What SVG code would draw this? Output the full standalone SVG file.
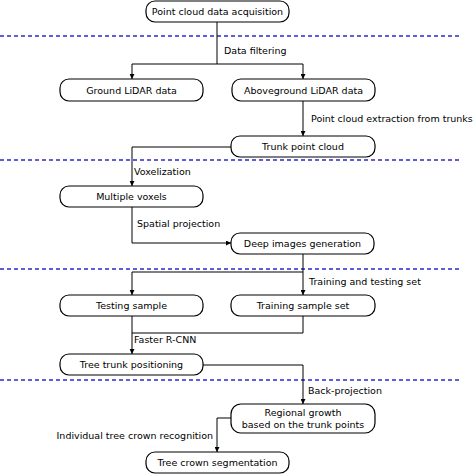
<svg xmlns="http://www.w3.org/2000/svg" width="474" height="474" viewBox="0 0 474 474">
<defs>
<style>
.box{fill:#fff;stroke:#000;stroke-width:1.2}
.t{font-family:"DejaVu Sans",Verdana,sans-serif;font-size:9.5px;fill:#000}
.c{text-anchor:middle}
.e{text-anchor:end}
.ln{fill:none;stroke:#000;stroke-width:1}
.dash{stroke:#2a2ad0;stroke-width:1.4;stroke-dasharray:4 3}
</style>
<marker id="ah" viewBox="0 0 10 10" refX="10" refY="5" markerWidth="5" markerHeight="5" orient="auto" markerUnits="userSpaceOnUse">
<path d="M0,0 L10,5 L0,10 z" fill="#000"/>
</marker>
</defs>
<rect width="474" height="474" fill="#fff"/>
<g id="separators">
<line class="dash" x1="0" y1="36" x2="462" y2="36"/>
<line class="dash" x1="0" y1="160" x2="462" y2="160"/>
<line class="dash" x1="0" y1="269" x2="462" y2="269"/>
<line class="dash" x1="0" y1="380" x2="462" y2="380"/>
</g>
<g id="connectors">
<path class="ln" d="M217,22 V64"/>
<path class="ln" d="M217,64 H132 V79" marker-end="url(#ah)"/>
<path class="ln" d="M217,64 H303 V79" marker-end="url(#ah)"/>
<path class="ln" d="M303,101 V136" marker-end="url(#ah)"/>
<path class="ln" d="M231,147 H132 V186" marker-end="url(#ah)"/>
<path class="ln" d="M132,207 V243 H231" marker-end="url(#ah)"/>
<path class="ln" d="M303,254 V295" marker-end="url(#ah)"/>
<path class="ln" d="M303,272 H132 V295" marker-end="url(#ah)"/>
<path class="ln" d="M132,316 V354" marker-end="url(#ah)"/>
<path class="ln" d="M303,316 V333 H132"/>
<path class="ln" d="M203,365 H303 V404" marker-end="url(#ah)"/>
<path class="ln" d="M231,418 H217 V452" marker-end="url(#ah)"/>
<text class="t" x="224" y="53.5">Data filtering</text>
<text class="t" x="311" y="122">Point cloud extraction from trunks</text>
<text class="t" x="134" y="175">Voxelization</text>
<text class="t" x="137" y="227">Spatial projection</text>
<text class="t" x="309" y="285">Training and testing set</text>
<text class="t" x="134" y="343">Faster R-CNN</text>
<text class="t" x="308" y="394">Back-projection</text>
<text class="t e" x="213" y="439">Individual tree crown recognition</text>
</g>
<g id="n1"><rect class="box" x="146" y="1" width="143" height="21" rx="9"/><text class="t c" x="217.5" y="15">Point cloud data acquisition</text></g>
<g id="n2"><rect class="box" x="60" y="79" width="143" height="22" rx="9"/><text class="t c" x="131.5" y="93.5">Ground LiDAR data</text></g>
<g id="n3"><rect class="box" x="232" y="79" width="143" height="22" rx="9"/><text class="t c" x="303.5" y="93.5">Aboveground LiDAR data</text></g>
<g id="n4"><rect class="box" x="231" y="136" width="144" height="21" rx="9"/><text class="t c" x="303" y="150">Trunk point cloud</text></g>
<g id="n5"><rect class="box" x="60" y="186" width="143" height="21" rx="9"/><text class="t c" x="131.5" y="200">Multiple voxels</text></g>
<g id="n6"><rect class="box" x="231" y="233" width="143" height="21" rx="9"/><text class="t c" x="302.5" y="247">Deep images generation</text></g>
<g id="n7"><rect class="box" x="60" y="295" width="143" height="21" rx="9"/><text class="t c" x="131.5" y="309">Testing sample</text></g>
<g id="n8"><rect class="box" x="231" y="295" width="144" height="21" rx="9"/><text class="t c" x="303" y="309">Training sample set</text></g>
<g id="n9"><rect class="box" x="60" y="354" width="143" height="21" rx="9"/><text class="t c" x="131.5" y="368">Tree trunk positioning</text></g>
<g id="n10"><rect class="box" x="231" y="404" width="144" height="29" rx="10"/><text class="t c" x="303" y="416">Regional growth</text><text class="t c" x="303" y="428">based on the trunk points</text></g>
<g id="n11"><rect class="box" x="146" y="452" width="143" height="21" rx="9"/><text class="t c" x="217.5" y="466">Tree crown segmentation</text></g>
</svg>
